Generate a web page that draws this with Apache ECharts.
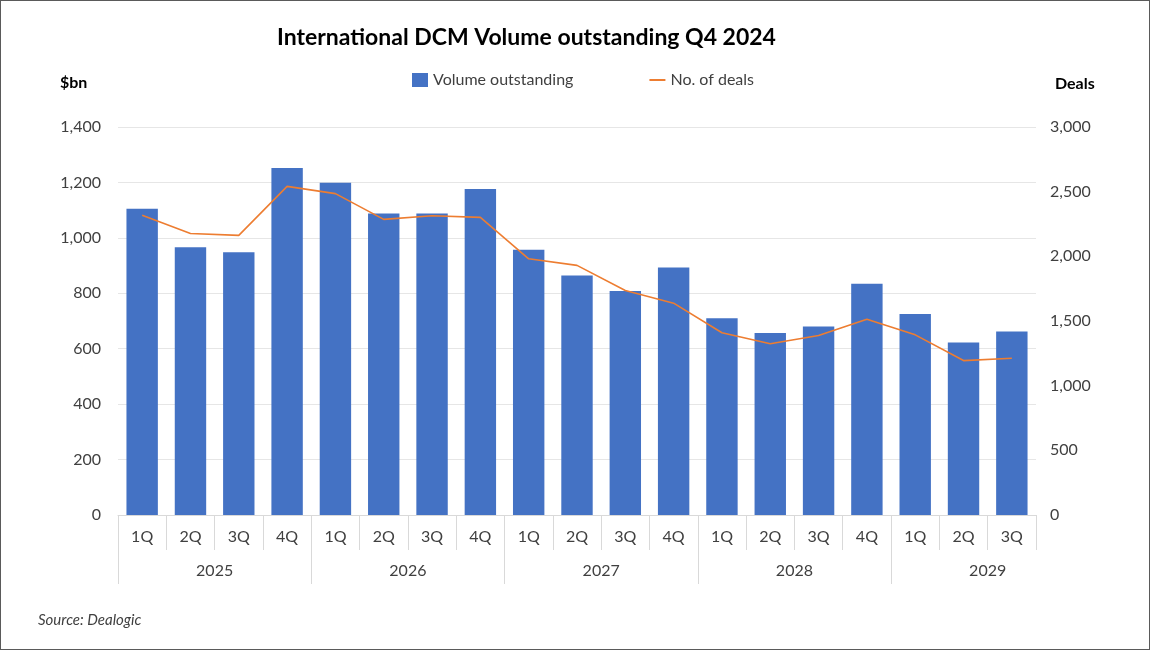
<!DOCTYPE html>
<html>
<head>
<meta charset="utf-8">
<script src="https://cdn.jsdelivr.net/npm/echarts@6/dist/echarts.min.js"></script>
<style>
  html, body { margin: 0; padding: 0; background: #fff; }
  #frame { width: 1150px; height: 650px; box-sizing: border-box; border: 1px solid #5a5a5a; }
  #chart { width: 1148px; height: 648px; }
</style>
</head>
<body>
<div id="frame"><div id="chart"></div></div>
<script>
// quarters along the x axis, grouped by year
const quarters = ['1Q','2Q','3Q','4Q', '1Q','2Q','3Q','4Q', '1Q','2Q','3Q','4Q', '1Q','2Q','3Q','4Q', '1Q','2Q','3Q'];
const years = ['2025', '2026', '2027', '2028', '2029'];
const quartersPerYear = [4, 4, 4, 4, 3];

// $bn, left axis
const volume = [1105, 966, 948, 1252, 1199, 1088, 1088, 1176, 957, 864, 808, 893, 710, 657, 680, 834, 725, 622, 662];
// deals, right axis
const deals = [2317, 2177, 2162, 2541, 2485, 2286, 2314, 2301, 1981, 1930, 1736, 1638, 1409, 1324, 1388, 1514, 1393, 1194, 1212];

const leftMax = 1400, leftStep = 200;
const rightMax = 3000, rightStep = 500;

const font = 'Lato, "Open Sans", sans-serif';
const textCol = '#404040';
const lineCol = '#d9d9d9';

// year row on a quarter scale: boundaries at group starts,
// label 2 quarters in (excel centres each group as if it had 4 quarters)
const yearStarts = [];
let start = 0;
quartersPerYear.forEach(function (n) { yearStarts.push(start); start += n; });
const yearLabelAt = yearStarts.map(function (s) { return s + 2; });
const lastStart = yearStarts[yearStarts.length - 1];

const W = 1148, gridL = 117, gridR = 113;
const plotW = W - gridL - gridR;
// second grid only spans up to the last year boundary, its split lines are the separators
const sepRight = gridR + plotW * (quarters.length - lastStart) / quarters.length;

const fmt = function (v) { return Number(v).toLocaleString('en-US'); };

const chart = echarts.init(document.getElementById('chart'));
chart.setOption({
  animation: false,
  textStyle: { fontFamily: font },
  color: ['#4472C4', '#ED7D31'],
  title: {
    text: 'International DCM Volume outstanding Q4 2024',
    left: 271,
    top: 20,
    textStyle: { fontFamily: font, fontSize: 23, fontWeight: 'bold', color: '#000' }
  },
  legend: {
    left: 406,
    top: 66,
    itemWidth: 16,
    itemHeight: 14,
    itemGap: 76,
    textStyle: { fontFamily: font, fontSize: 16, color: textCol },
    data: [
      { name: 'Volume outstanding', icon: 'rect' },
      { name: 'No. of deals', icon: 'path://M0,0 L16,0 L16,2 L0,2 Z' }
    ]
  },
  grid: [
    { left: gridL, right: gridR, top: 126, bottom: 134 },
    { left: gridL, right: sepRight, top: 549, height: 34 }
  ],
  xAxis: [
    {
      type: 'category',
      data: quarters,
      position: 'bottom',
      axisLine: { lineStyle: { color: lineCol } },
      axisTick: { show: true, interval: 0, length: 35, lineStyle: { color: lineCol } },
      axisLabel: { interval: 0, margin: 14, fontSize: 16, color: textCol, fontFamily: font }
    },
    {
      type: 'value',
      min: 0,
      max: quarters.length,
      position: 'bottom',
      offset: 35,
      axisLine: { show: false },
      splitLine: { show: false },
      axisTick: { show: false },
      axisLabel: {
        margin: 13,
        fontSize: 16,
        color: textCol,
        fontFamily: font,
        customValues: yearLabelAt,
        formatter: function (v) { return years[yearLabelAt.indexOf(v)] || ''; }
      }
    },
    {
      type: 'value',
      gridIndex: 1,
      min: 0,
      max: lastStart,
      interval: 4,
      axisLine: { show: false },
      axisTick: { show: false },
      axisLabel: { show: false },
      splitLine: { show: true, lineStyle: { color: lineCol } }
    }
  ],
  yAxis: [
    {
      type: 'value',
      min: 0, max: leftMax, interval: leftStep,
      axisLine: { show: false },
      axisTick: { show: false },
      splitLine: { lineStyle: { color: '#e6e6e6' } },
      axisLabel: { margin: 17, fontSize: 16, color: textCol, fontFamily: font, formatter: fmt }
    },
    {
      type: 'value',
      min: 0, max: rightMax, interval: rightStep,
      axisLine: { show: false },
      axisTick: { show: false },
      splitLine: { show: false },
      axisLabel: { margin: 14, fontSize: 16, color: textCol, fontFamily: font, formatter: fmt }
    },
    {
      type: 'value',
      gridIndex: 1,
      show: false
    }
  ],
  graphic: [
    { type: 'text', left: 59, top: 74, style: { text: '$bn', font: 'bold 16px ' + font, fill: '#000' } },
    { type: 'text', left: 1054, top: 75, style: { text: 'Deals', font: 'bold 16px ' + font, fill: '#000' } },
    { type: 'text', left: 37, top: 612, style: { text: 'Source: Dealogic', font: 'italic 15px ' + font, fill: textCol } }
  ],
  series: [
    {
      name: 'Volume outstanding',
      type: 'bar',
      data: volume,
      barWidth: '65%',
      itemStyle: { color: '#4472C4' }
    },
    {
      name: 'No. of deals',
      type: 'line',
      yAxisIndex: 1,
      data: deals,
      symbol: 'none',
      lineStyle: { color: '#ED7D31', width: 1.6 },
      itemStyle: { color: '#ED7D31' }
    }
  ]
});
</script>
</body>
</html>
